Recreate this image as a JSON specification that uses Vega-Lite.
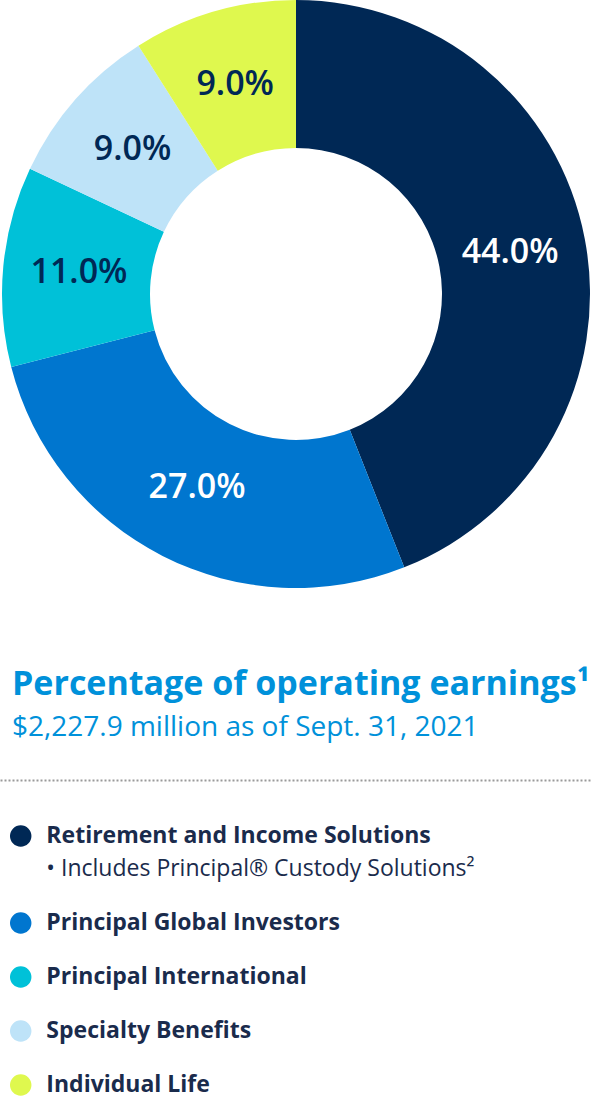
{
  "$schema": "https://vega.github.io/schema/vega-lite/v6.json",
  "background": "white",
  "padding": 0,
  "spacing": 80,
  "config": {
    "view": {"stroke": null},
    "font": "Open Sans"
  },
  "datasets": {
    "segments": [
      {"segment": "Retirement and Income Solutions", "share": 0.44, "note": "• Includes Principal® Custody Solutions²"},
      {"segment": "Principal Global Investors", "share": 0.27},
      {"segment": "Principal International", "share": 0.11},
      {"segment": "Specialty Benefits", "share": 0.09},
      {"segment": "Individual Life", "share": 0.09}
    ]
  },
  "vconcat": [
    {
      "width": 592,
      "height": 588,
      "data": {"name": "segments"},
      "transform": [{"window": [{"op": "row_number", "as": "rank"}]}],
      "encoding": {
        "theta": {"field": "share", "type": "quantitative", "stack": true},
        "order": {"field": "rank", "type": "quantitative"}
      },
      "layer": [
        {
          "mark": {"type": "arc", "outerRadius": 294, "innerRadius": 146},
          "encoding": {
            "color": {
              "field": "segment",
              "type": "nominal",
              "legend": null,
              "scale": {
                "domain": ["Retirement and Income Solutions", "Principal Global Investors", "Principal International", "Specialty Benefits", "Individual Life"],
                "range": ["#002855", "#0076CF", "#00C1D8", "#BEE3F8", "#DFF84E"]
              }
            }
          }
        },
        {
          "mark": {"type": "text", "radius": 218, "font": "Open Sans", "fontSize": 34, "fontWeight": 600},
          "encoding": {
            "text": {"field": "share", "type": "quantitative", "format": ".1%"},
            "color": {
              "condition": {"test": "datum.share > 0.2", "value": "#ffffff"},
              "value": "#002855"
            }
          }
        }
      ]
    },
    {
      "width": 592,
      "height": 325,
      "data": {"name": "segments"},
      "title": {
        "text": "Percentage of operating earnings¹",
        "subtitle": "$2,227.9 million as of Sept. 31, 2021",
        "anchor": "start",
        "frame": "group",
        "dx": 12,
        "font": "Open Sans",
        "fontSize": 34,
        "fontWeight": "bold",
        "color": "#0091DA",
        "subtitleFont": "Open Sans",
        "subtitleFontSize": 28,
        "subtitleColor": "#0091DA",
        "subtitlePadding": 12,
        "offset": 38
      },
      "encoding": {
        "y": {
          "field": "segment",
          "type": "ordinal",
          "sort": null,
          "axis": null,
          "scale": {
            "domain": ["Retirement and Income Solutions", "Principal Global Investors", "Principal International", "Specialty Benefits", "Individual Life"],
            "range": [89, 305],
            "padding": 0
          }
        }
      },
      "layer": [
        {
          "transform": [{"filter": "datum.segment !== 'Retirement and Income Solutions'"}],
          "mark": {"type": "point", "filled": true, "opacity": 1, "size": 460, "shape": "circle"},
          "encoding": {
            "x": {
              "datum": 21,
              "type": "quantitative",
              "scale": {"domain": [0, 592]},
              "axis": {
                "orient": "top",
                "title": null,
                "labels": false,
                "ticks": false,
                "grid": false,
                "domainColor": "#9a9a9a",
                "domainDash": [2, 2],
                "domainWidth": 2
              }
            },
            "color": {
              "field": "segment",
              "type": "nominal",
              "legend": null,
              "scale": {
                "domain": ["Retirement and Income Solutions", "Principal Global Investors", "Principal International", "Specialty Benefits", "Individual Life"],
                "range": ["#002855", "#0076CF", "#00C1D8", "#BEE3F8", "#DFF84E"]
              }
            }
          }
        },
        {
          "transform": [{"filter": "datum.segment === 'Retirement and Income Solutions'"}],
          "mark": {"type": "point", "filled": true, "opacity": 1, "size": 460, "shape": "circle"},
          "encoding": {
            "x": {"datum": 21, "type": "quantitative"},
            "yOffset": {"value": -33},
            "color": {"field": "segment", "type": "nominal", "legend": null}
          }
        },
        {
          "transform": [{"filter": "datum.segment !== 'Retirement and Income Solutions'"}],
          "mark": {"type": "text", "align": "left", "baseline": "middle", "font": "Open Sans", "fontSize": 23, "fontWeight": "bold", "color": "#1A2B4C"},
          "encoding": {
            "x": {"datum": 47, "type": "quantitative"},
            "text": {"field": "segment", "type": "nominal"}
          }
        },
        {
          "transform": [{"filter": "datum.segment === 'Retirement and Income Solutions'"}],
          "mark": {"type": "text", "align": "left", "baseline": "middle", "dy": -33, "font": "Open Sans", "fontSize": 23, "fontWeight": "bold", "color": "#1A2B4C"},
          "encoding": {
            "x": {"datum": 47, "type": "quantitative"},
            "text": {"field": "segment", "type": "nominal"}
          }
        },
        {
          "transform": [{"filter": "isValid(datum.note)"}],
          "mark": {"type": "text", "align": "left", "baseline": "middle", "font": "Open Sans", "fontSize": 23, "color": "#1A2B4C"},
          "encoding": {
            "x": {"datum": 47, "type": "quantitative"},
            "text": {"field": "note", "type": "nominal"}
          }
        }
      ]
    }
  ]
}
